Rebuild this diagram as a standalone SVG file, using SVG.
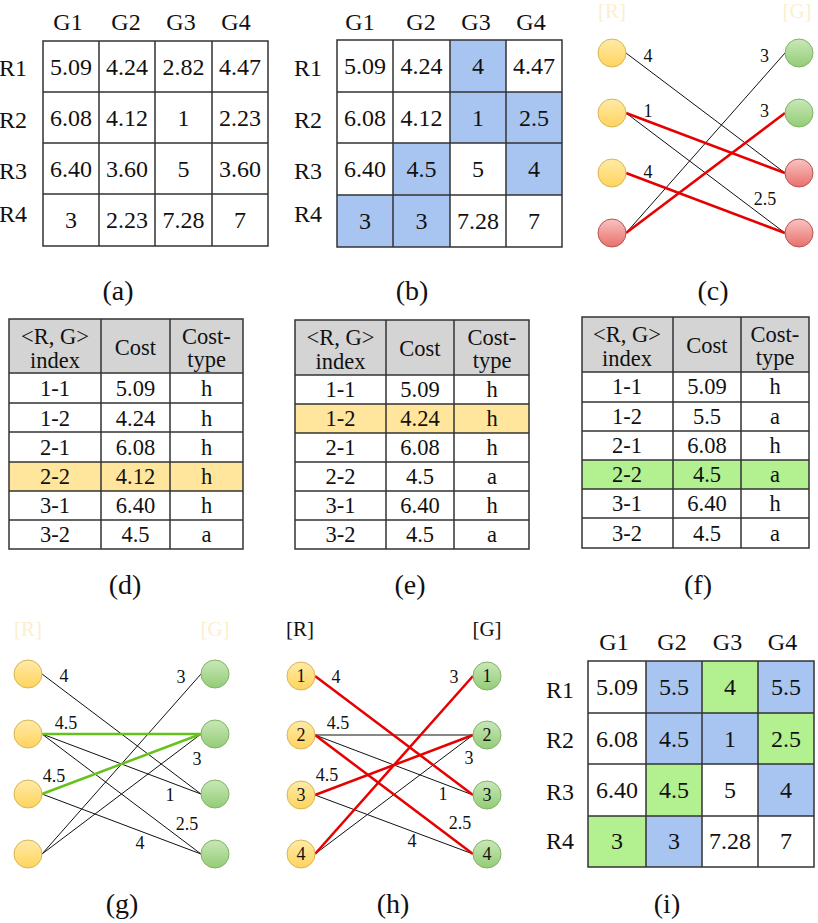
<svg xmlns="http://www.w3.org/2000/svg" width="818" height="923" viewBox="0 0 818 923" font-family="'Liberation Serif', 'DejaVu Serif', serif">
<defs>
<linearGradient id="gy" x1="0" y1="0" x2="0" y2="1"><stop offset="0" stop-color="#ffeaa6"/><stop offset="1" stop-color="#ffd45e"/></linearGradient>
<linearGradient id="gg" x1="0" y1="0" x2="0" y2="1"><stop offset="0" stop-color="#c9e8b8"/><stop offset="1" stop-color="#93cc76"/></linearGradient>
<linearGradient id="gr" x1="0" y1="0" x2="0" y2="1"><stop offset="0" stop-color="#f8c4c2"/><stop offset="1" stop-color="#e8706b"/></linearGradient>
<style>
text{font-family:'Liberation Serif','DejaVu Serif',serif;fill:#111}
.m{font-size:24px;text-anchor:middle}
.tb{font-size:22.5px;text-anchor:middle}
.l{font-size:18px;text-anchor:middle}
.cap{font-size:28px;text-anchor:middle}
.br{font-size:21px;text-anchor:middle}
.fd{fill:#fcefcf}
.grid{fill:none;stroke:#333;stroke-width:1.5}
.blue{fill:#a8c4f0}
.green{fill:#b2f090}
.yel{fill:#ffe69c}
.hdr{fill:#d4d4d4}
.e{stroke:#111;stroke-width:1;fill:none}
.er{stroke:#e60000;stroke-width:2.5;fill:none}
.eg{stroke:#66c21a;stroke-width:2.5;fill:none}
.ny{fill:url(#gy);stroke:#d6b656;stroke-width:1}
.ng{fill:url(#gg);stroke:#82b366;stroke-width:1}
.nr{fill:url(#gr);stroke:#b85450;stroke-width:1}
</style>
</defs>
<rect width="818" height="923" fill="#fff"/>

<!-- (a) -->
<g id="matrix-a">
<path class="grid" d="M43 41H268V246H43Z M99 41V246 M155 41V246 M212 41V246 M43 92H268 M43 143H268 M43 194H268"/>
<text class="m" x="68" y="30">G1</text><text class="m" x="126" y="30">G2</text><text class="m" x="181" y="30">G3</text><text class="m" x="236" y="30">G4</text>
<text class="m" x="13" y="76">R1</text><text class="m" x="13" y="128">R2</text><text class="m" x="13" y="179">R3</text><text class="m" x="13" y="222">R4</text>
<text class="m" x="71" y="75">5.09</text><text class="m" x="127" y="75">4.24</text><text class="m" x="183.5" y="75">2.82</text><text class="m" x="240" y="75">4.47</text>
<text class="m" x="71" y="126">6.08</text><text class="m" x="127" y="126">4.12</text><text class="m" x="183.5" y="126">1</text><text class="m" x="240" y="126">2.23</text>
<text class="m" x="71" y="177">6.40</text><text class="m" x="127" y="177">3.60</text><text class="m" x="183.5" y="177">5</text><text class="m" x="240" y="177">3.60</text>
<text class="m" x="71" y="228">3</text><text class="m" x="127" y="228">2.23</text><text class="m" x="183.5" y="228">7.28</text><text class="m" x="240" y="228">7</text>
<text class="cap" x="118" y="300">(a)</text>
</g>

<!-- (b) -->
<g id="matrix-b">
<rect class="blue" x="450" y="40" width="56" height="103"/>
<rect class="blue" x="506" y="92" width="56" height="103"/>
<rect class="blue" x="393" y="143" width="57" height="52"/>
<rect class="blue" x="337" y="195" width="113" height="52"/>
<path class="grid" d="M337 40H562V247H337Z M393 40V247 M450 40V247 M506 40V247 M337 92H562 M337 143H562 M337 195H562"/>
<text class="m" x="360" y="30">G1</text><text class="m" x="421" y="30">G2</text><text class="m" x="476" y="30">G3</text><text class="m" x="531" y="30">G4</text>
<text class="m" x="308" y="76">R1</text><text class="m" x="308" y="128">R2</text><text class="m" x="308" y="179">R3</text><text class="m" x="308" y="222">R4</text>
<text class="m" x="365" y="74">5.09</text><text class="m" x="421.5" y="74">4.24</text><text class="m" x="478" y="74">4</text><text class="m" x="534" y="74">4.47</text>
<text class="m" x="365" y="126">6.08</text><text class="m" x="421.5" y="126">4.12</text><text class="m" x="478" y="126">1</text><text class="m" x="534" y="126">2.5</text>
<text class="m" x="365" y="177">6.40</text><text class="m" x="421.5" y="177">4.5</text><text class="m" x="478" y="177">5</text><text class="m" x="534" y="177">4</text>
<text class="m" x="365" y="229">3</text><text class="m" x="421.5" y="229">3</text><text class="m" x="478" y="229">7.28</text><text class="m" x="534" y="229">7</text>
<text class="cap" x="412" y="300">(b)</text>
</g>

<!-- (c) connectors -->
<g id="connectors-c">
<line class="e" x1="626" y1="53" x2="785" y2="173"/>
<line class="e" x1="626" y1="113" x2="785" y2="233"/>
<line class="e" x1="626" y1="233" x2="785" y2="53"/>
<line class="er" x1="626" y1="113" x2="785" y2="173"/>
<line class="er" x1="626" y1="173" x2="785" y2="233"/>
<line class="er" x1="626" y1="233" x2="785" y2="113"/>
<text class="l" x="648" y="62">4</text>
<text class="l" x="648" y="117">1</text>
<text class="l" x="648" y="178">4</text>
<text class="l" x="764.5" y="62">3</text>
<text class="l" x="764.5" y="117">3</text>
<text class="l" x="765" y="205">2.5</text>
</g>
<g id="graph-c">
<text class="br fd" x="612" y="18">[R]</text><text class="br fd" x="797" y="18">[G]</text>
<g id="c-R1"><circle class="ny" cx="612" cy="53" r="14"/></g>
<g id="c-R2"><circle class="ny" cx="612" cy="113" r="14"/></g>
<g id="c-R3"><circle class="ny" cx="612" cy="173" r="14"/></g>
<g id="c-R4"><circle class="nr" cx="612" cy="233" r="14"/></g>
<g id="c-G1"><circle class="ng" cx="799" cy="53" r="14"/></g>
<g id="c-G2"><circle class="ng" cx="799" cy="113" r="14"/></g>
<g id="c-G3"><circle class="nr" cx="799" cy="173" r="14"/></g>
<g id="c-G4"><circle class="nr" cx="799" cy="233" r="14"/></g>
<text class="cap" x="713" y="300">(c)</text>
</g>

<!-- (d) -->
<g id="table-d">
<rect class="hdr" x="9" y="319" width="234" height="54"/>
<rect class="yel" x="9" y="462" width="234" height="29"/>
<path class="grid" d="M9 319H243V549H9Z M101 319V549 M170 319V549 M9 373H243 M9 403H243 M9 432H243 M9 462H243 M9 491H243 M9 520H243"/>
<text class="tb" x="55" y="344">&lt;R, G&gt;</text><text class="tb" x="55" y="368">index</text>
<text class="tb" x="135.5" y="355">Cost</text>
<text class="tb" x="206.5" y="344">Cost-</text><text class="tb" x="206.5" y="367">type</text>
<text class="tb" x="55" y="396">1-1</text><text class="tb" x="135.5" y="396">5.09</text><text class="tb" x="206.5" y="396">h</text>
<text class="tb" x="55" y="425.5">1-2</text><text class="tb" x="135.5" y="425.5">4.24</text><text class="tb" x="206.5" y="425.5">h</text>
<text class="tb" x="55" y="454.5">2-1</text><text class="tb" x="135.5" y="454.5">6.08</text><text class="tb" x="206.5" y="454.5">h</text>
<text class="tb" x="55" y="484">2-2</text><text class="tb" x="135.5" y="484">4.12</text><text class="tb" x="206.5" y="484">h</text>
<text class="tb" x="55" y="513">3-1</text><text class="tb" x="135.5" y="513">6.40</text><text class="tb" x="206.5" y="513">h</text>
<text class="tb" x="55" y="542">3-2</text><text class="tb" x="135.5" y="542">4.5</text><text class="tb" x="206.5" y="542">a</text>
<text class="cap" x="125" y="594">(d)</text>
</g>

<!-- (e) -->
<g id="table-e">
<rect class="hdr" x="295" y="320" width="234" height="55"/>
<rect class="yel" x="295" y="404" width="234" height="29"/>
<path class="grid" d="M295 320H529V549H295Z M386 320V549 M454 320V549 M295 375H529 M295 404H529 M295 433H529 M295 462H529 M295 491H529 M295 520H529"/>
<text class="tb" x="340.5" y="345">&lt;R, G&gt;</text><text class="tb" x="340.5" y="369">index</text>
<text class="tb" x="420" y="356">Cost</text>
<text class="tb" x="492" y="345">Cost-</text><text class="tb" x="492" y="368">type</text>
<text class="tb" x="340.5" y="397">1-1</text><text class="tb" x="420" y="397">5.09</text><text class="tb" x="492" y="397">h</text>
<text class="tb" x="340.5" y="426">1-2</text><text class="tb" x="420" y="426">4.24</text><text class="tb" x="492" y="426">h</text>
<text class="tb" x="340.5" y="455">2-1</text><text class="tb" x="420" y="455">6.08</text><text class="tb" x="492" y="455">h</text>
<text class="tb" x="340.5" y="484">2-2</text><text class="tb" x="420" y="484">4.5</text><text class="tb" x="492" y="484">a</text>
<text class="tb" x="340.5" y="513">3-1</text><text class="tb" x="420" y="513">6.40</text><text class="tb" x="492" y="513">h</text>
<text class="tb" x="340.5" y="542">3-2</text><text class="tb" x="420" y="542">4.5</text><text class="tb" x="492" y="542">a</text>
<text class="cap" x="410" y="594">(e)</text>
</g>

<!-- (f) -->
<g id="table-f">
<rect class="hdr" x="582" y="317" width="227" height="55"/>
<rect class="green" x="582" y="460" width="227" height="29"/>
<path class="grid" d="M582 317H809V548H582Z M673 317V548 M741 317V548 M582 372H809 M582 402H809 M582 431H809 M582 460H809 M582 489H809 M582 518H809"/>
<text class="tb" x="627" y="342">&lt;R, G&gt;</text><text class="tb" x="627" y="366">index</text>
<text class="tb" x="707" y="353">Cost</text>
<text class="tb" x="775" y="342">Cost-</text><text class="tb" x="775" y="365">type</text>
<text class="tb" x="627" y="394">1-1</text><text class="tb" x="707" y="394">5.09</text><text class="tb" x="775" y="394">h</text>
<text class="tb" x="627" y="424">1-2</text><text class="tb" x="707" y="424">5.5</text><text class="tb" x="775" y="424">a</text>
<text class="tb" x="627" y="453">2-1</text><text class="tb" x="707" y="453">6.08</text><text class="tb" x="775" y="453">h</text>
<text class="tb" x="627" y="482">2-2</text><text class="tb" x="707" y="482">4.5</text><text class="tb" x="775" y="482">a</text>
<text class="tb" x="627" y="511">3-1</text><text class="tb" x="707" y="511">6.40</text><text class="tb" x="775" y="511">h</text>
<text class="tb" x="627" y="541">3-2</text><text class="tb" x="707" y="541">4.5</text><text class="tb" x="775" y="541">a</text>
<text class="cap" x="698" y="594">(f)</text>
</g>

<!-- (g) connectors -->
<g id="connectors-g">
<line class="e" x1="42" y1="674" x2="201" y2="794"/>
<line class="e" x1="42" y1="734" x2="201" y2="794"/>
<line class="e" x1="42" y1="734" x2="201" y2="854"/>
<line class="e" x1="42" y1="794" x2="201" y2="854"/>
<line class="e" x1="42" y1="854" x2="201" y2="674"/>
<line class="e" x1="42" y1="854" x2="201" y2="734"/>
<line class="eg" x1="42" y1="734" x2="201" y2="734"/>
<line class="eg" x1="42" y1="794" x2="201" y2="734"/>
<text class="l" x="64" y="682">4</text>
<text class="l" x="66" y="728.5">4.5</text>
<text class="l" x="54" y="782">4.5</text>
<text class="l" x="181" y="683">3</text>
<text class="l" x="197" y="765">3</text>
<text class="l" x="170" y="801">1</text>
<text class="l" x="187" y="830">2.5</text>
<text class="l" x="140" y="848.5">4</text>
</g>
<g id="graph-g">
<text class="br fd" x="28" y="636">[R]</text><text class="br fd" x="215" y="636">[G]</text>
<g id="g-R1"><circle class="ny" cx="28" cy="674" r="14"/></g>
<g id="g-R2"><circle class="ny" cx="28" cy="734" r="14"/></g>
<g id="g-R3"><circle class="ny" cx="28" cy="794" r="14"/></g>
<g id="g-R4"><circle class="ny" cx="28" cy="854" r="14"/></g>
<g id="g-G1"><circle class="ng" cx="215" cy="674" r="14"/></g>
<g id="g-G2"><circle class="ng" cx="215" cy="734" r="14"/></g>
<g id="g-G3"><circle class="ng" cx="215" cy="794" r="14"/></g>
<g id="g-G4"><circle class="ng" cx="215" cy="854" r="14"/></g>
<text class="cap" x="122" y="913">(g)</text>
</g>

<!-- (h) connectors -->
<g id="connectors-h">
<line class="e" x1="315" y1="735" x2="473" y2="735"/>
<line class="e" x1="315" y1="735" x2="473" y2="795"/>
<line class="e" x1="315" y1="795" x2="473" y2="854"/>
<line class="e" x1="315" y1="854" x2="473" y2="735"/>
<line class="er" x1="315" y1="676" x2="473" y2="795"/>
<line class="er" x1="315" y1="735" x2="473" y2="854"/>
<line class="er" x1="315" y1="795" x2="473" y2="735"/>
<line class="er" x1="315" y1="854" x2="473" y2="676"/>
<text class="l" x="336" y="683">4</text>
<text class="l" x="338" y="728.5">4.5</text>
<text class="l" x="327" y="781">4.5</text>
<text class="l" x="454" y="683">3</text>
<text class="l" x="469" y="764">3</text>
<text class="l" x="443" y="800">1</text>
<text class="l" x="460" y="828.5">2.5</text>
<text class="l" x="412" y="847">4</text>
</g>
<g id="graph-h">
<text class="br" x="300" y="636">[R]</text><text class="br" x="487" y="636">[G]</text>
<g id="h-R1"><circle class="ny" cx="301" cy="676" r="14"/><text class="l" x="301" y="682">1</text></g>
<g id="h-R2"><circle class="ny" cx="301" cy="735" r="14"/><text class="l" x="301" y="741">2</text></g>
<g id="h-R3"><circle class="ny" cx="301" cy="795" r="14"/><text class="l" x="301" y="801">3</text></g>
<g id="h-R4"><circle class="ny" cx="301" cy="854" r="14"/><text class="l" x="301" y="860">4</text></g>
<g id="h-G1"><circle class="ng" cx="487" cy="676" r="14"/><text class="l" x="487" y="682">1</text></g>
<g id="h-G2"><circle class="ng" cx="487" cy="735" r="14"/><text class="l" x="487" y="741">2</text></g>
<g id="h-G3"><circle class="ng" cx="487" cy="795" r="14"/><text class="l" x="487" y="801">3</text></g>
<g id="h-G4"><circle class="ng" cx="487" cy="854" r="14"/><text class="l" x="487" y="860">4</text></g>
<text class="cap" x="393" y="913">(h)</text>
</g>

<!-- (i) -->
<g id="matrix-i">
<rect class="blue" x="646" y="661" width="56" height="103"/>
<rect class="blue" x="758" y="661" width="56" height="52"/>
<rect class="blue" x="702" y="713" width="56" height="51"/>
<rect class="blue" x="758" y="764" width="56" height="52"/>
<rect class="blue" x="646" y="816" width="56" height="51"/>
<rect class="green" x="702" y="661" width="56" height="52"/>
<rect class="green" x="758" y="713" width="56" height="51"/>
<rect class="green" x="646" y="764" width="56" height="52"/>
<rect class="green" x="588" y="816" width="58" height="51"/>
<path class="grid" d="M588 661H814V867H588Z M646 661V867 M702 661V867 M758 661V867 M588 713H814 M588 764H814 M588 816H814"/>
<text class="m" x="614" y="650">G1</text><text class="m" x="672" y="650">G2</text><text class="m" x="727.5" y="650">G3</text><text class="m" x="782.5" y="650">G4</text>
<text class="m" x="560" y="698">R1</text><text class="m" x="560" y="748">R2</text><text class="m" x="560" y="800">R3</text><text class="m" x="560" y="849">R4</text>
<text class="m" x="617" y="695">5.09</text><text class="m" x="674" y="695">5.5</text><text class="m" x="730" y="695">4</text><text class="m" x="786" y="695">5.5</text>
<text class="m" x="617" y="746.5">6.08</text><text class="m" x="674" y="746.5">4.5</text><text class="m" x="730" y="746.5">1</text><text class="m" x="786" y="746.5">2.5</text>
<text class="m" x="617" y="798">6.40</text><text class="m" x="674" y="798">4.5</text><text class="m" x="730" y="798">5</text><text class="m" x="786" y="798">4</text>
<text class="m" x="617" y="849">3</text><text class="m" x="674" y="849">3</text><text class="m" x="730" y="849">7.28</text><text class="m" x="786" y="849">7</text>
<text class="cap" x="667" y="913">(i)</text>
</g>
</svg>
